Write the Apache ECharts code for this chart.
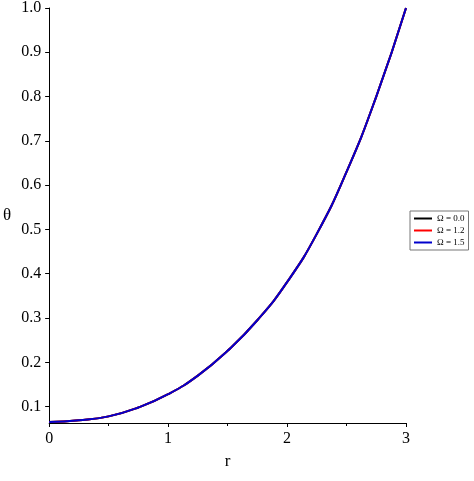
<!DOCTYPE html>
<html><head><meta charset="utf-8">
<script src="https://cdn.jsdelivr.net/npm/echarts@6/dist/echarts.min.js"></script>
<style>html,body{margin:0;padding:0;background:#fff}#c{width:474px;height:481px}</style>
</head><body><div id="c"></div>
<script>
const rValues=[0,0.25,0.5,0.75,1,1.25,1.5,1.75,2,2.25,2.5,2.75,3];
const theta00=[0.065,0.069,0.078,0.098,0.128,0.170,0.226,0.295,0.381,0.49,0.63,0.80,1.0];
const theta12=[0.065,0.069,0.078,0.098,0.128,0.170,0.226,0.295,0.381,0.49,0.63,0.80,1.0];
const theta15=[0.065,0.069,0.078,0.098,0.128,0.170,0.226,0.295,0.381,0.49,0.63,0.80,1.0];
const names=['Ω = 0.0','Ω = 1.2','Ω = 1.5'];
const colors=['#000000','#ff0000','#0000cc'];
const font='Liberation Serif';
const mk=(d)=>rValues.map((r,i)=>[r,d[i]]);
const chart=echarts.init(document.getElementById('c'));
chart.setOption({
 animation:false,
 grid:{left:49,right:68,top:6,bottom:58},
 legend:{orient:'vertical',left:410,top:211,itemWidth:18,itemHeight:2,itemGap:3,
   borderColor:'#777',borderWidth:1,padding:[3,4],backgroundColor:'#fff',
   textStyle:{fontFamily:font,fontSize:9,color:'#000'},icon:'rect',data:names},
 xAxis:{type:'value',min:0,max:3,interval:1,name:'r',nameLocation:'middle',nameGap:30,
   nameTextStyle:{fontFamily:font,fontSize:17,color:'#000'},
   axisLine:{lineStyle:{color:'#000'}},axisTick:{lineStyle:{color:'#000'},length:4},
   minorTick:{show:true,splitNumber:2,length:3,lineStyle:{color:'#000'}},
   axisLabel:{fontFamily:font,fontSize:16,color:'#000'},splitLine:{show:false}},
 yAxis:{type:'value',min:0.063,max:1.0,name:'θ',nameLocation:'middle',nameGap:38,nameRotate:0,
   nameTextStyle:{fontFamily:font,fontSize:17,color:'#000'},
   axisLine:{show:true,lineStyle:{color:'#000'}},axisTick:{show:true,lineStyle:{color:'#000'},length:4},
   axisLabel:{fontFamily:font,fontSize:16,color:'#000',
     customValues:[0.1,0.2,0.3,0.4,0.5,0.6,0.7,0.8,0.9,1.0],formatter:v=>v.toFixed(1)},
   axisTick:{show:true,customValues:[0.1,0.2,0.3,0.4,0.5,0.6,0.7,0.8,0.9,1.0],lineStyle:{color:'#000'},length:4},
   splitLine:{show:false}},
 series:[theta00,theta12,theta15].map((d,i)=>({name:names[i],type:'line',smooth:true,showSymbol:false,
   data:mk(d),color:colors[i],lineStyle:{width:2,color:colors[i]}}))
});
</script></body></html>
